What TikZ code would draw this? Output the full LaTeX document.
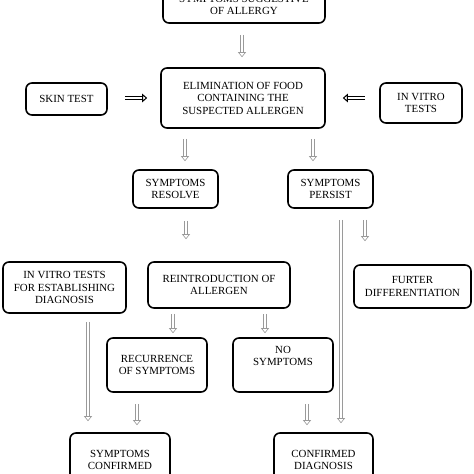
\documentclass[tikz,border=0pt]{standalone}
\usepackage{fontspec}
\setmainfont{Liberation Serif}
\usetikzlibrary{arrows.meta,calc}
\definecolor{arrgray}{HTML}{9A9A9A}
\tikzset{
  box/.style={draw=black, line width=1.6pt, rounded corners=6pt, align=center,
    font=\fontsize{10.9}{12.5}\selectfont, inner sep=2pt},
  varrow/.style={draw=arrgray, line width=0.6pt, double=white, double distance=2.4pt,
    -{Triangle[open, length=5pt, width=8pt, line width=0.6pt]}},
  harrow/.style={draw=black, line width=1pt, double=white, double distance=2.4pt,
    -{Triangle[open, length=5pt, width=8.5pt, line width=1pt]}},
}
\begin{document}
\begin{tikzpicture}[x=1pt, y=-1pt]
\useasboundingbox (0,0) rectangle (474,474);
\node[box, minimum width=162pt, minimum height=36pt] (top) at (244,5) {SYMPTOMS SUGGESTIVE\\OF ALLERGY};
\node[box, minimum width=164pt, minimum height=60pt] (elim) at (243,98) {ELIMINATION OF FOOD\\CONTAINING THE\\SUSPECTED ALLERGEN};
\node[box, minimum width=81pt, minimum height=32pt] (skin) at (66.5,99) {SKIN TEST};
\node[box, minimum width=82pt, minimum height=40pt] (invitro) at (421,103) {IN VITRO\\TESTS};
\node[box, minimum width=85pt, minimum height=38pt] (resolve) at (175.5,189) {SYMPTOMS\\RESOLVE};
\node[box, minimum width=85pt, minimum height=38pt] (persist) at (330.5,189) {SYMPTOMS\\PERSIST};
\node[box, minimum width=123pt, minimum height=51pt] (ivtests) at (64.5,287.5) {IN VITRO TESTS\\FOR ESTABLISHING\\DIAGNOSIS};
\node[box, minimum width=142pt, minimum height=46pt] (reintro) at (219,285) {REINTRODUCTION OF\\ALLERGEN};
\node[box, minimum width=117pt, minimum height=43pt] (furter) at (412.5,286.5) {FURTER\\DIFFERENTIATION};
\node[box, minimum width=100pt, minimum height=54pt] (recur) at (157,365) {RECURRENCE\\OF SYMPTOMS};
\node[box, minimum width=100pt, minimum height=54pt] (nosym) at (283,365) {NO\\SYMPTOMS\\[6pt]};
\node[box, minimum width=100pt, minimum height=54pt] (symconf) at (120,460) {SYMPTOMS\\CONFIRMED};
\node[box, minimum width=99pt, minimum height=54pt] (confdiag) at (323.5,460) {CONFIRMED\\DIAGNOSIS};

\draw[varrow, shorten <=11pt, shorten >=10pt] ([xshift=-2pt]top.south) -- ([xshift=-1pt]elim.north);
\draw[harrow, shorten <=17pt, shorten >=13pt] (skin.east |- elim.west) -- (elim.west);
\draw[harrow, shorten <=14pt, shorten >=17pt] (invitro.west |- elim.east) -- (elim.east);
\draw[varrow, shorten <=10pt, shorten >=8pt] ([xshift=-58pt]elim.south) -- ([xshift=-58pt]elim.south |- resolve.north);
\draw[varrow, shorten <=10pt, shorten >=8pt] ([xshift=70pt]elim.south) -- ([xshift=70pt]elim.south |- persist.north);
\draw[varrow, shorten <=12pt, shorten >=22pt] ([xshift=10.5pt]resolve.south) -- ([xshift=10.5pt]resolve.south |- reintro.north);
\draw[varrow, shorten <=11pt, shorten >=23pt] ([xshift=34.5pt]persist.south) -- ([xshift=34.5pt]persist.south |- furter.north);
\draw[varrow, shorten <=11pt, shorten >=9pt] ([xshift=10.5pt]persist.south) -- ([xshift=10.5pt]persist.south |- confdiag.north);
\draw[varrow, shorten <=5pt, shorten >=4pt] ([xshift=-46pt]reintro.south) -- ([xshift=-46pt]reintro.south |- recur.north);
\draw[varrow, shorten <=5pt, shorten >=4pt] ([xshift=46pt]reintro.south) -- ([xshift=46pt]reintro.south |- nosym.north);
\draw[varrow, shorten <=8pt, shorten >=11pt] ([xshift=23.5pt]ivtests.south) -- ([xshift=23.5pt]ivtests.south |- symconf.north);
\draw[varrow, shorten <=11pt, shorten >=7pt] ([xshift=-20pt]recur.south) -- ([xshift=-20pt]recur.south |- symconf.north);
\draw[varrow, shorten <=11pt, shorten >=7pt] ([xshift=24pt]nosym.south) -- ([xshift=24pt]nosym.south |- confdiag.north);
\end{tikzpicture}
\end{document}
